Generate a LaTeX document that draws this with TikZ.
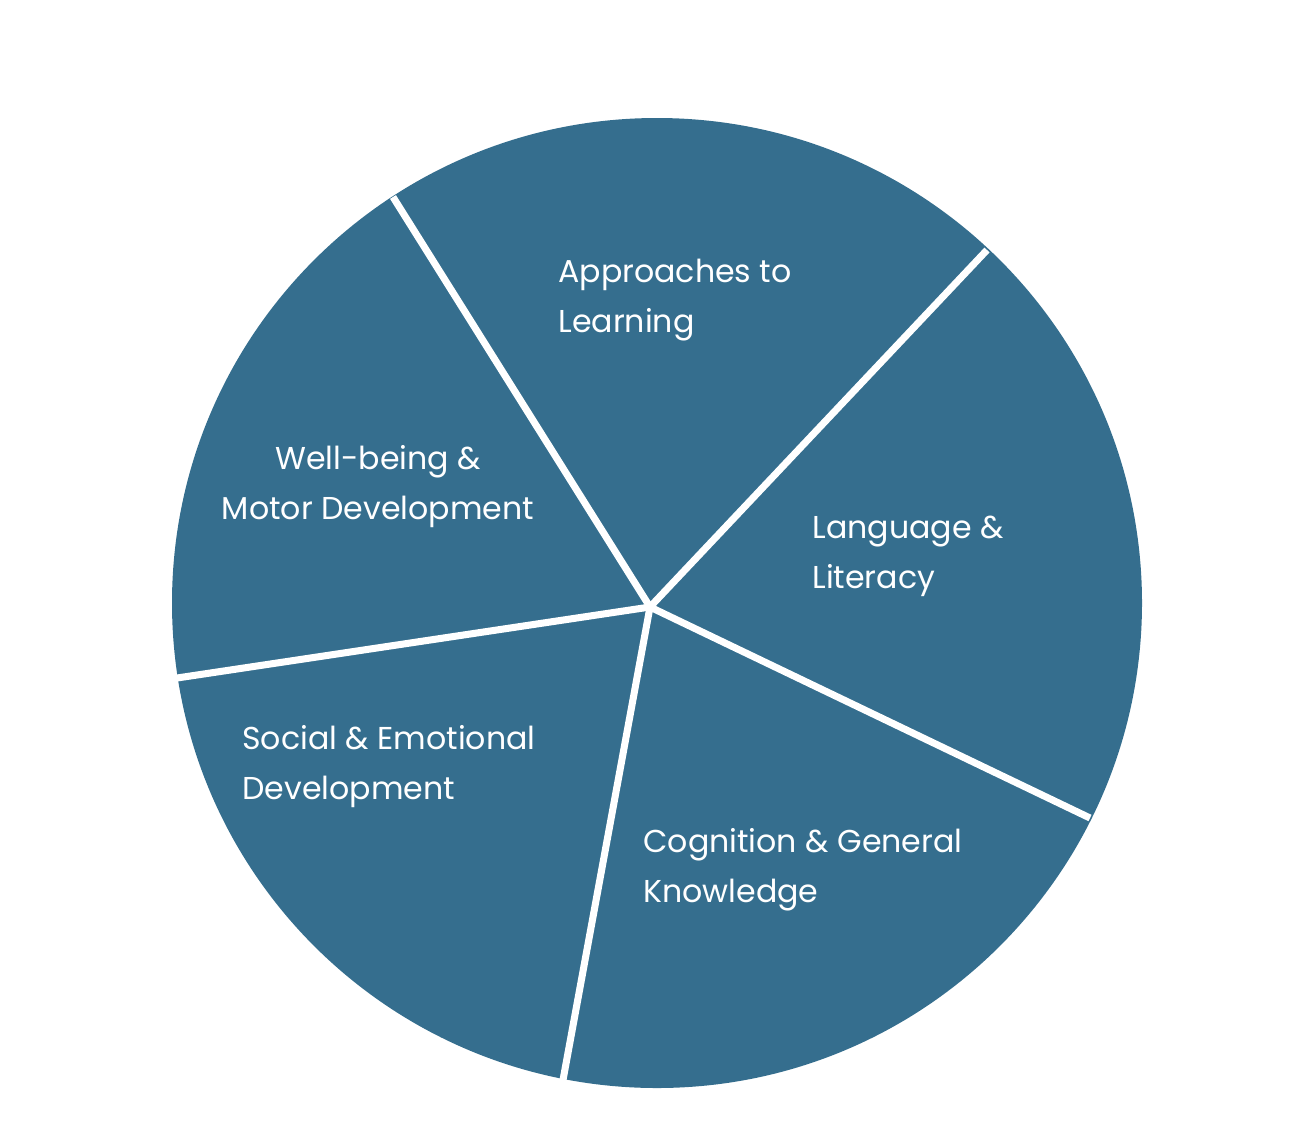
\documentclass[tikz,border=0pt]{standalone}
\usepackage{fontspec}
\setmainfont{Poppins}
\begin{document}
\begin{tikzpicture}[x=0.02cm,y=-0.02cm,
 lab/.style={text=white,font=\fontsize{18}{28.4}\selectfont,inner sep=0pt},
 div/.style={white,line width=4pt}]
\useasboundingbox (0,0) rectangle (1311,1147);
\fill[fill={rgb,255:red,53;green,110;blue,142}] (657,603) circle[radius=485];
\coordinate (c) at (650,607);
\coordinate (p1) at (393,197);
\coordinate (p2) at (987,250);
\coordinate (p3) at (1090,818);
\coordinate (p4) at (563,1080);
\coordinate (p5) at (177,678);
\foreach \p in {p1,p2,p3,p4,p5} \draw[div] (c) -- (\p);
\node[lab,anchor=west,align=left] (a) at (558,300) {Approaches to\\Learning};
\node[lab,anchor=west,align=left] (b) at (812,556) {Language \&\\Literacy};
\node[lab,anchor=west,align=left] (d) at (643,870) {Cognition \& General\\Knowledge};
\node[lab,anchor=west,align=left] (e) at (242,767) {Social \& Emotional\\Development};
\node[lab,align=center] (f) at (378,487) {Well-being \&\\Motor Development};
\end{tikzpicture}
\end{document}
